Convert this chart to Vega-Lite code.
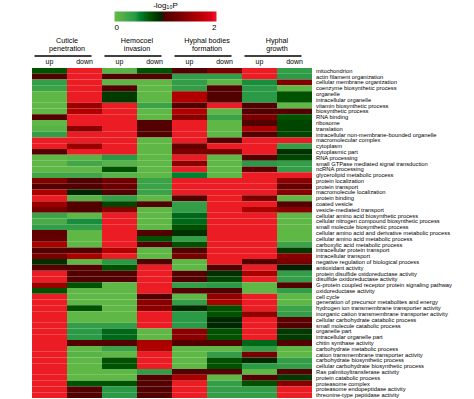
{
"$schema": "https://vega.github.io/schema/vega-lite/v6.json",
"padding": {"left": 32, "top": 1, "right": 0, "bottom": 2},
"config": {"font": "Liberation Sans", "view": {"stroke": null}, "scale": {"bandPaddingInner": 0, "bandPaddingOuter": 0}},
"datasets": {"cells": [
{"term":"mitochondrion","group":"Cuticle penetration","dir":"up","value":0.7},{"term":"mitochondrion","group":"Cuticle penetration","dir":"down","value":2},{"term":"mitochondrion","group":"Hemocoel invasion","dir":"up","value":0.1},{"term":"mitochondrion","group":"Hemocoel invasion","dir":"down","value":0.7},{"term":"mitochondrion","group":"Hyphal bodies formation","dir":"up","value":1.0},{"term":"mitochondrion","group":"Hyphal bodies formation","dir":"down","value":1.3},{"term":"mitochondrion","group":"Hyphal growth","dir":"up","value":2},{"term":"mitochondrion","group":"Hyphal growth","dir":"down","value":0.35},
{"term":"actin filament organization","group":"Cuticle penetration","dir":"up","value":1.0},{"term":"actin filament organization","group":"Cuticle penetration","dir":"down","value":2},{"term":"actin filament organization","group":"Hemocoel invasion","dir":"up","value":1.0},{"term":"actin filament organization","group":"Hemocoel invasion","dir":"down","value":1.0},{"term":"actin filament organization","group":"Hyphal bodies formation","dir":"up","value":0.35},{"term":"actin filament organization","group":"Hyphal bodies formation","dir":"down","value":0.35},{"term":"actin filament organization","group":"Hyphal growth","dir":"up","value":2},{"term":"actin filament organization","group":"Hyphal growth","dir":"down","value":0.4},
{"term":"cellular membrane organization","group":"Cuticle penetration","dir":"up","value":0.35},{"term":"cellular membrane organization","group":"Cuticle penetration","dir":"down","value":2},{"term":"cellular membrane organization","group":"Hemocoel invasion","dir":"up","value":0.05},{"term":"cellular membrane organization","group":"Hemocoel invasion","dir":"down","value":0.05},{"term":"cellular membrane organization","group":"Hyphal bodies formation","dir":"up","value":0.35},{"term":"cellular membrane organization","group":"Hyphal bodies formation","dir":"down","value":0.05},{"term":"cellular membrane organization","group":"Hyphal growth","dir":"up","value":0.45},{"term":"cellular membrane organization","group":"Hyphal growth","dir":"down","value":1.35},
{"term":"coenzyme biosynthetic process","group":"Cuticle penetration","dir":"up","value":0.3},{"term":"coenzyme biosynthetic process","group":"Cuticle penetration","dir":"down","value":2},{"term":"coenzyme biosynthetic process","group":"Hemocoel invasion","dir":"up","value":1.0},{"term":"coenzyme biosynthetic process","group":"Hemocoel invasion","dir":"down","value":0.05},{"term":"coenzyme biosynthetic process","group":"Hyphal bodies formation","dir":"up","value":0.35},{"term":"coenzyme biosynthetic process","group":"Hyphal bodies formation","dir":"down","value":1.0},{"term":"coenzyme biosynthetic process","group":"Hyphal growth","dir":"up","value":0.4},{"term":"coenzyme biosynthetic process","group":"Hyphal growth","dir":"down","value":0.05},
{"term":"organelle","group":"Cuticle penetration","dir":"up","value":0.05},{"term":"organelle","group":"Cuticle penetration","dir":"down","value":2},{"term":"organelle","group":"Hemocoel invasion","dir":"up","value":0.8},{"term":"organelle","group":"Hemocoel invasion","dir":"down","value":0.05},{"term":"organelle","group":"Hyphal bodies formation","dir":"up","value":1.65},{"term":"organelle","group":"Hyphal bodies formation","dir":"down","value":1.0},{"term":"organelle","group":"Hyphal growth","dir":"up","value":0.4},{"term":"organelle","group":"Hyphal growth","dir":"down","value":0.7},
{"term":"intracellular organelle","group":"Cuticle penetration","dir":"up","value":0.05},{"term":"intracellular organelle","group":"Cuticle penetration","dir":"down","value":2},{"term":"intracellular organelle","group":"Hemocoel invasion","dir":"up","value":0.8},{"term":"intracellular organelle","group":"Hemocoel invasion","dir":"down","value":0.05},{"term":"intracellular organelle","group":"Hyphal bodies formation","dir":"up","value":1.65},{"term":"intracellular organelle","group":"Hyphal bodies formation","dir":"down","value":1.0},{"term":"intracellular organelle","group":"Hyphal growth","dir":"up","value":0.4},{"term":"intracellular organelle","group":"Hyphal growth","dir":"down","value":0.7},
{"term":"vitamin biosynthetic process","group":"Cuticle penetration","dir":"up","value":0.05},{"term":"vitamin biosynthetic process","group":"Cuticle penetration","dir":"down","value":1.5},{"term":"vitamin biosynthetic process","group":"Hemocoel invasion","dir":"up","value":2},{"term":"vitamin biosynthetic process","group":"Hemocoel invasion","dir":"down","value":0.3},{"term":"vitamin biosynthetic process","group":"Hyphal bodies formation","dir":"up","value":1.0},{"term":"vitamin biosynthetic process","group":"Hyphal bodies formation","dir":"down","value":2},{"term":"vitamin biosynthetic process","group":"Hyphal growth","dir":"up","value":1.0},{"term":"vitamin biosynthetic process","group":"Hyphal growth","dir":"down","value":0.05},
{"term":"biosynthetic process","group":"Cuticle penetration","dir":"up","value":0.05},{"term":"biosynthetic process","group":"Cuticle penetration","dir":"down","value":1.65},{"term":"biosynthetic process","group":"Hemocoel invasion","dir":"up","value":2},{"term":"biosynthetic process","group":"Hemocoel invasion","dir":"down","value":0.05},{"term":"biosynthetic process","group":"Hyphal bodies formation","dir":"up","value":1.65},{"term":"biosynthetic process","group":"Hyphal bodies formation","dir":"down","value":0.05},{"term":"biosynthetic process","group":"Hyphal growth","dir":"up","value":1.0},{"term":"biosynthetic process","group":"Hyphal growth","dir":"down","value":1.0},
{"term":"RNA binding","group":"Cuticle penetration","dir":"up","value":1.0},{"term":"RNA binding","group":"Cuticle penetration","dir":"down","value":2},{"term":"RNA binding","group":"Hemocoel invasion","dir":"up","value":2},{"term":"RNA binding","group":"Hemocoel invasion","dir":"down","value":0.05},{"term":"RNA binding","group":"Hyphal bodies formation","dir":"up","value":1.4},{"term":"RNA binding","group":"Hyphal bodies formation","dir":"down","value":0.3},{"term":"RNA binding","group":"Hyphal growth","dir":"up","value":1.3},{"term":"RNA binding","group":"Hyphal growth","dir":"down","value":0.7},
{"term":"ribosome","group":"Cuticle penetration","dir":"up","value":0.05},{"term":"ribosome","group":"Cuticle penetration","dir":"down","value":2},{"term":"ribosome","group":"Hemocoel invasion","dir":"up","value":2},{"term":"ribosome","group":"Hemocoel invasion","dir":"down","value":1.0},{"term":"ribosome","group":"Hyphal bodies formation","dir":"up","value":2},{"term":"ribosome","group":"Hyphal bodies formation","dir":"down","value":0.05},{"term":"ribosome","group":"Hyphal growth","dir":"up","value":1.0},{"term":"ribosome","group":"Hyphal growth","dir":"down","value":0.75},
{"term":"translation","group":"Cuticle penetration","dir":"up","value":0.1},{"term":"translation","group":"Cuticle penetration","dir":"down","value":1.4},{"term":"translation","group":"Hemocoel invasion","dir":"up","value":2},{"term":"translation","group":"Hemocoel invasion","dir":"down","value":1.0},{"term":"translation","group":"Hyphal bodies formation","dir":"up","value":2},{"term":"translation","group":"Hyphal bodies formation","dir":"down","value":0.05},{"term":"translation","group":"Hyphal growth","dir":"up","value":1.6},{"term":"translation","group":"Hyphal growth","dir":"down","value":0.75},
{"term":"intracellular non-membrane-bounded organelle","group":"Cuticle penetration","dir":"up","value":0.35},{"term":"intracellular non-membrane-bounded organelle","group":"Cuticle penetration","dir":"down","value":2},{"term":"intracellular non-membrane-bounded organelle","group":"Hemocoel invasion","dir":"up","value":2},{"term":"intracellular non-membrane-bounded organelle","group":"Hemocoel invasion","dir":"down","value":1.0},{"term":"intracellular non-membrane-bounded organelle","group":"Hyphal bodies formation","dir":"up","value":2},{"term":"intracellular non-membrane-bounded organelle","group":"Hyphal bodies formation","dir":"down","value":0.05},{"term":"intracellular non-membrane-bounded organelle","group":"Hyphal growth","dir":"up","value":1.0},{"term":"intracellular non-membrane-bounded organelle","group":"Hyphal growth","dir":"down","value":0.75},
{"term":"macromolecular complex","group":"Cuticle penetration","dir":"up","value":2},{"term":"macromolecular complex","group":"Cuticle penetration","dir":"down","value":2},{"term":"macromolecular complex","group":"Hemocoel invasion","dir":"up","value":2},{"term":"macromolecular complex","group":"Hemocoel invasion","dir":"down","value":0.05},{"term":"macromolecular complex","group":"Hyphal bodies formation","dir":"up","value":2},{"term":"macromolecular complex","group":"Hyphal bodies formation","dir":"down","value":1.0},{"term":"macromolecular complex","group":"Hyphal growth","dir":"up","value":2},{"term":"macromolecular complex","group":"Hyphal growth","dir":"down","value":2},
{"term":"cytoplasm","group":"Cuticle penetration","dir":"up","value":2},{"term":"cytoplasm","group":"Cuticle penetration","dir":"down","value":1.5},{"term":"cytoplasm","group":"Hemocoel invasion","dir":"up","value":2},{"term":"cytoplasm","group":"Hemocoel invasion","dir":"down","value":0.05},{"term":"cytoplasm","group":"Hyphal bodies formation","dir":"up","value":1.15},{"term":"cytoplasm","group":"Hyphal bodies formation","dir":"down","value":2},{"term":"cytoplasm","group":"Hyphal growth","dir":"up","value":2},{"term":"cytoplasm","group":"Hyphal growth","dir":"down","value":0.35},
{"term":"cytoplasmic part","group":"Cuticle penetration","dir":"up","value":1.0},{"term":"cytoplasmic part","group":"Cuticle penetration","dir":"down","value":2},{"term":"cytoplasmic part","group":"Hemocoel invasion","dir":"up","value":2},{"term":"cytoplasmic part","group":"Hemocoel invasion","dir":"down","value":0.05},{"term":"cytoplasmic part","group":"Hyphal bodies formation","dir":"up","value":1.3},{"term":"cytoplasmic part","group":"Hyphal bodies formation","dir":"down","value":1.3},{"term":"cytoplasmic part","group":"Hyphal growth","dir":"up","value":2},{"term":"cytoplasmic part","group":"Hyphal growth","dir":"down","value":0.85},
{"term":"RNA processing","group":"Cuticle penetration","dir":"up","value":0.05},{"term":"RNA processing","group":"Cuticle penetration","dir":"down","value":0.1},{"term":"RNA processing","group":"Hemocoel invasion","dir":"up","value":0.4},{"term":"RNA processing","group":"Hemocoel invasion","dir":"down","value":0.05},{"term":"RNA processing","group":"Hyphal bodies formation","dir":"up","value":2},{"term":"RNA processing","group":"Hyphal bodies formation","dir":"down","value":0.05},{"term":"RNA processing","group":"Hyphal growth","dir":"up","value":1.0},{"term":"RNA processing","group":"Hyphal growth","dir":"down","value":0.75},
{"term":"small GTPase mediated signal transduction","group":"Cuticle penetration","dir":"up","value":0.05},{"term":"small GTPase mediated signal transduction","group":"Cuticle penetration","dir":"down","value":0.25},{"term":"small GTPase mediated signal transduction","group":"Hemocoel invasion","dir":"up","value":0.1},{"term":"small GTPase mediated signal transduction","group":"Hemocoel invasion","dir":"down","value":0.05},{"term":"small GTPase mediated signal transduction","group":"Hyphal bodies formation","dir":"up","value":1.4},{"term":"small GTPase mediated signal transduction","group":"Hyphal bodies formation","dir":"down","value":0.05},{"term":"small GTPase mediated signal transduction","group":"Hyphal growth","dir":"up","value":0.4},{"term":"small GTPase mediated signal transduction","group":"Hyphal growth","dir":"down","value":0.35},
{"term":"ncRNA processing","group":"Cuticle penetration","dir":"up","value":0.05},{"term":"ncRNA processing","group":"Cuticle penetration","dir":"down","value":0.05},{"term":"ncRNA processing","group":"Hemocoel invasion","dir":"up","value":0.7},{"term":"ncRNA processing","group":"Hemocoel invasion","dir":"down","value":0.05},{"term":"ncRNA processing","group":"Hyphal bodies formation","dir":"up","value":2},{"term":"ncRNA processing","group":"Hyphal bodies formation","dir":"down","value":0.05},{"term":"ncRNA processing","group":"Hyphal growth","dir":"up","value":1.1},{"term":"ncRNA processing","group":"Hyphal growth","dir":"down","value":0.35},
{"term":"glycerolipid metabolic process","group":"Cuticle penetration","dir":"up","value":0.25},{"term":"glycerolipid metabolic process","group":"Cuticle penetration","dir":"down","value":0.25},{"term":"glycerolipid metabolic process","group":"Hemocoel invasion","dir":"up","value":0.1},{"term":"glycerolipid metabolic process","group":"Hemocoel invasion","dir":"down","value":0.05},{"term":"glycerolipid metabolic process","group":"Hyphal bodies formation","dir":"up","value":0.5},{"term":"glycerolipid metabolic process","group":"Hyphal bodies formation","dir":"down","value":0.05},{"term":"glycerolipid metabolic process","group":"Hyphal growth","dir":"up","value":2},{"term":"glycerolipid metabolic process","group":"Hyphal growth","dir":"down","value":2},
{"term":"protein localization","group":"Cuticle penetration","dir":"up","value":1.35},{"term":"protein localization","group":"Cuticle penetration","dir":"down","value":1.0},{"term":"protein localization","group":"Hemocoel invasion","dir":"up","value":1.25},{"term":"protein localization","group":"Hemocoel invasion","dir":"down","value":0.3},{"term":"protein localization","group":"Hyphal bodies formation","dir":"up","value":2},{"term":"protein localization","group":"Hyphal bodies formation","dir":"down","value":2},{"term":"protein localization","group":"Hyphal growth","dir":"up","value":2},{"term":"protein localization","group":"Hyphal growth","dir":"down","value":1.4},
{"term":"protein transport","group":"Cuticle penetration","dir":"up","value":1.0},{"term":"protein transport","group":"Cuticle penetration","dir":"down","value":1.0},{"term":"protein transport","group":"Hemocoel invasion","dir":"up","value":1.2},{"term":"protein transport","group":"Hemocoel invasion","dir":"down","value":0.3},{"term":"protein transport","group":"Hyphal bodies formation","dir":"up","value":2},{"term":"protein transport","group":"Hyphal bodies formation","dir":"down","value":2},{"term":"protein transport","group":"Hyphal growth","dir":"up","value":2},{"term":"protein transport","group":"Hyphal growth","dir":"down","value":1.15},
{"term":"macromolecule localization","group":"Cuticle penetration","dir":"up","value":1.6},{"term":"macromolecule localization","group":"Cuticle penetration","dir":"down","value":0.9},{"term":"macromolecule localization","group":"Hemocoel invasion","dir":"up","value":1.0},{"term":"macromolecule localization","group":"Hemocoel invasion","dir":"down","value":0.3},{"term":"macromolecule localization","group":"Hyphal bodies formation","dir":"up","value":2},{"term":"macromolecule localization","group":"Hyphal bodies formation","dir":"down","value":2},{"term":"macromolecule localization","group":"Hyphal growth","dir":"up","value":2},{"term":"macromolecule localization","group":"Hyphal growth","dir":"down","value":1.4},
{"term":"protein binding","group":"Cuticle penetration","dir":"up","value":2},{"term":"protein binding","group":"Cuticle penetration","dir":"down","value":0.1},{"term":"protein binding","group":"Hemocoel invasion","dir":"up","value":0.35},{"term":"protein binding","group":"Hemocoel invasion","dir":"down","value":0.05},{"term":"protein binding","group":"Hyphal bodies formation","dir":"up","value":1.0},{"term":"protein binding","group":"Hyphal bodies formation","dir":"down","value":2},{"term":"protein binding","group":"Hyphal growth","dir":"up","value":1.3},{"term":"protein binding","group":"Hyphal growth","dir":"down","value":0.05},
{"term":"coated vesicle","group":"Cuticle penetration","dir":"up","value":1.5},{"term":"coated vesicle","group":"Cuticle penetration","dir":"down","value":1.0},{"term":"coated vesicle","group":"Hemocoel invasion","dir":"up","value":0.75},{"term":"coated vesicle","group":"Hemocoel invasion","dir":"down","value":1.0},{"term":"coated vesicle","group":"Hyphal bodies formation","dir":"up","value":0.35},{"term":"coated vesicle","group":"Hyphal bodies formation","dir":"down","value":2},{"term":"coated vesicle","group":"Hyphal growth","dir":"up","value":2},{"term":"coated vesicle","group":"Hyphal growth","dir":"down","value":1.0},
{"term":"vesicle-mediated transport","group":"Cuticle penetration","dir":"up","value":1.25},{"term":"vesicle-mediated transport","group":"Cuticle penetration","dir":"down","value":1.0},{"term":"vesicle-mediated transport","group":"Hemocoel invasion","dir":"up","value":1.4},{"term":"vesicle-mediated transport","group":"Hemocoel invasion","dir":"down","value":0.05},{"term":"vesicle-mediated transport","group":"Hyphal bodies formation","dir":"up","value":0.35},{"term":"vesicle-mediated transport","group":"Hyphal bodies formation","dir":"down","value":2},{"term":"vesicle-mediated transport","group":"Hyphal growth","dir":"up","value":1.6},{"term":"vesicle-mediated transport","group":"Hyphal growth","dir":"down","value":1.4},
{"term":"cellular amino acid biosynthetic process","group":"Cuticle penetration","dir":"up","value":0.3},{"term":"cellular amino acid biosynthetic process","group":"Cuticle penetration","dir":"down","value":0.05},{"term":"cellular amino acid biosynthetic process","group":"Hemocoel invasion","dir":"up","value":2},{"term":"cellular amino acid biosynthetic process","group":"Hemocoel invasion","dir":"down","value":0.05},{"term":"cellular amino acid biosynthetic process","group":"Hyphal bodies formation","dir":"up","value":0.6},{"term":"cellular amino acid biosynthetic process","group":"Hyphal bodies formation","dir":"down","value":2},{"term":"cellular amino acid biosynthetic process","group":"Hyphal growth","dir":"up","value":2},{"term":"cellular amino acid biosynthetic process","group":"Hyphal growth","dir":"down","value":0.05},
{"term":"cellular nitrogen compound biosynthetic process","group":"Cuticle penetration","dir":"up","value":0.2},{"term":"cellular nitrogen compound biosynthetic process","group":"Cuticle penetration","dir":"down","value":0.45},{"term":"cellular nitrogen compound biosynthetic process","group":"Hemocoel invasion","dir":"up","value":2},{"term":"cellular nitrogen compound biosynthetic process","group":"Hemocoel invasion","dir":"down","value":0.05},{"term":"cellular nitrogen compound biosynthetic process","group":"Hyphal bodies formation","dir":"up","value":0.6},{"term":"cellular nitrogen compound biosynthetic process","group":"Hyphal bodies formation","dir":"down","value":2},{"term":"cellular nitrogen compound biosynthetic process","group":"Hyphal growth","dir":"up","value":2},{"term":"cellular nitrogen compound biosynthetic process","group":"Hyphal growth","dir":"down","value":0.05},
{"term":"small molecule biosynthetic process","group":"Cuticle penetration","dir":"up","value":0.35},{"term":"small molecule biosynthetic process","group":"Cuticle penetration","dir":"down","value":0.35},{"term":"small molecule biosynthetic process","group":"Hemocoel invasion","dir":"up","value":2},{"term":"small molecule biosynthetic process","group":"Hemocoel invasion","dir":"down","value":0.05},{"term":"small molecule biosynthetic process","group":"Hyphal bodies formation","dir":"up","value":0.7},{"term":"small molecule biosynthetic process","group":"Hyphal bodies formation","dir":"down","value":2},{"term":"small molecule biosynthetic process","group":"Hyphal growth","dir":"up","value":2},{"term":"small molecule biosynthetic process","group":"Hyphal growth","dir":"down","value":0.05},
{"term":"cellular amino acid and derivative metabolic process","group":"Cuticle penetration","dir":"up","value":1.1},{"term":"cellular amino acid and derivative metabolic process","group":"Cuticle penetration","dir":"down","value":0.05},{"term":"cellular amino acid and derivative metabolic process","group":"Hemocoel invasion","dir":"up","value":2},{"term":"cellular amino acid and derivative metabolic process","group":"Hemocoel invasion","dir":"down","value":1.0},{"term":"cellular amino acid and derivative metabolic process","group":"Hyphal bodies formation","dir":"up","value":0.85},{"term":"cellular amino acid and derivative metabolic process","group":"Hyphal bodies formation","dir":"down","value":2},{"term":"cellular amino acid and derivative metabolic process","group":"Hyphal growth","dir":"up","value":2},{"term":"cellular amino acid and derivative metabolic process","group":"Hyphal growth","dir":"down","value":0.05},
{"term":"cellular amino acid metabolic process","group":"Cuticle penetration","dir":"up","value":1.15},{"term":"cellular amino acid metabolic process","group":"Cuticle penetration","dir":"down","value":0.05},{"term":"cellular amino acid metabolic process","group":"Hemocoel invasion","dir":"up","value":2},{"term":"cellular amino acid metabolic process","group":"Hemocoel invasion","dir":"down","value":0.7},{"term":"cellular amino acid metabolic process","group":"Hyphal bodies formation","dir":"up","value":0.35},{"term":"cellular amino acid metabolic process","group":"Hyphal bodies formation","dir":"down","value":2},{"term":"cellular amino acid metabolic process","group":"Hyphal growth","dir":"up","value":2},{"term":"cellular amino acid metabolic process","group":"Hyphal growth","dir":"down","value":0.05},
{"term":"carboxylic acid metabolic process","group":"Cuticle penetration","dir":"up","value":1.6},{"term":"carboxylic acid metabolic process","group":"Cuticle penetration","dir":"down","value":0.05},{"term":"carboxylic acid metabolic process","group":"Hemocoel invasion","dir":"up","value":2},{"term":"carboxylic acid metabolic process","group":"Hemocoel invasion","dir":"down","value":1.0},{"term":"carboxylic acid metabolic process","group":"Hyphal bodies formation","dir":"up","value":0.7},{"term":"carboxylic acid metabolic process","group":"Hyphal bodies formation","dir":"down","value":2},{"term":"carboxylic acid metabolic process","group":"Hyphal growth","dir":"up","value":2},{"term":"carboxylic acid metabolic process","group":"Hyphal growth","dir":"down","value":0.3},
{"term":"intracellular protein transport","group":"Cuticle penetration","dir":"up","value":1.0},{"term":"intracellular protein transport","group":"Cuticle penetration","dir":"down","value":1.0},{"term":"intracellular protein transport","group":"Hemocoel invasion","dir":"up","value":1.65},{"term":"intracellular protein transport","group":"Hemocoel invasion","dir":"down","value":0.05},{"term":"intracellular protein transport","group":"Hyphal bodies formation","dir":"up","value":1.0},{"term":"intracellular protein transport","group":"Hyphal bodies formation","dir":"down","value":2},{"term":"intracellular protein transport","group":"Hyphal growth","dir":"up","value":2},{"term":"intracellular protein transport","group":"Hyphal growth","dir":"down","value":0.8},
{"term":"intracellular transport","group":"Cuticle penetration","dir":"up","value":1.3},{"term":"intracellular transport","group":"Cuticle penetration","dir":"down","value":1.6},{"term":"intracellular transport","group":"Hemocoel invasion","dir":"up","value":2},{"term":"intracellular transport","group":"Hemocoel invasion","dir":"down","value":0.05},{"term":"intracellular transport","group":"Hyphal bodies formation","dir":"up","value":1.3},{"term":"intracellular transport","group":"Hyphal bodies formation","dir":"down","value":2},{"term":"intracellular transport","group":"Hyphal growth","dir":"up","value":2},{"term":"intracellular transport","group":"Hyphal growth","dir":"down","value":1.4},
{"term":"negative regulation of biological process","group":"Cuticle penetration","dir":"up","value":0.85},{"term":"negative regulation of biological process","group":"Cuticle penetration","dir":"down","value":0.05},{"term":"negative regulation of biological process","group":"Hemocoel invasion","dir":"up","value":0.4},{"term":"negative regulation of biological process","group":"Hemocoel invasion","dir":"down","value":1.0},{"term":"negative regulation of biological process","group":"Hyphal bodies formation","dir":"up","value":0.05},{"term":"negative regulation of biological process","group":"Hyphal bodies formation","dir":"down","value":2},{"term":"negative regulation of biological process","group":"Hyphal growth","dir":"up","value":1.0},{"term":"negative regulation of biological process","group":"Hyphal growth","dir":"down","value":1.3},
{"term":"antioxidant activity","group":"Cuticle penetration","dir":"up","value":1.0},{"term":"antioxidant activity","group":"Cuticle penetration","dir":"down","value":1.0},{"term":"antioxidant activity","group":"Hemocoel invasion","dir":"up","value":0.7},{"term":"antioxidant activity","group":"Hemocoel invasion","dir":"down","value":2},{"term":"antioxidant activity","group":"Hyphal bodies formation","dir":"up","value":0.05},{"term":"antioxidant activity","group":"Hyphal bodies formation","dir":"down","value":1.0},{"term":"antioxidant activity","group":"Hyphal growth","dir":"up","value":2},{"term":"antioxidant activity","group":"Hyphal growth","dir":"down","value":0.95},
{"term":"protein disulfide oxidoreductase activity","group":"Cuticle penetration","dir":"up","value":2},{"term":"protein disulfide oxidoreductase activity","group":"Cuticle penetration","dir":"down","value":1.0},{"term":"protein disulfide oxidoreductase activity","group":"Hemocoel invasion","dir":"up","value":1.0},{"term":"protein disulfide oxidoreductase activity","group":"Hemocoel invasion","dir":"down","value":2},{"term":"protein disulfide oxidoreductase activity","group":"Hyphal bodies formation","dir":"up","value":1.0},{"term":"protein disulfide oxidoreductase activity","group":"Hyphal bodies formation","dir":"down","value":0.85},{"term":"protein disulfide oxidoreductase activity","group":"Hyphal growth","dir":"up","value":1.6},{"term":"protein disulfide oxidoreductase activity","group":"Hyphal growth","dir":"down","value":0.35},
{"term":"disulfide oxidoreductase activity","group":"Cuticle penetration","dir":"up","value":2},{"term":"disulfide oxidoreductase activity","group":"Cuticle penetration","dir":"down","value":1.0},{"term":"disulfide oxidoreductase activity","group":"Hemocoel invasion","dir":"up","value":1.0},{"term":"disulfide oxidoreductase activity","group":"Hemocoel invasion","dir":"down","value":2},{"term":"disulfide oxidoreductase activity","group":"Hyphal bodies formation","dir":"up","value":1.0},{"term":"disulfide oxidoreductase activity","group":"Hyphal bodies formation","dir":"down","value":0.75},{"term":"disulfide oxidoreductase activity","group":"Hyphal growth","dir":"up","value":2},{"term":"disulfide oxidoreductase activity","group":"Hyphal growth","dir":"down","value":0.35},
{"term":"G-protein coupled receptor protein signaling pathway","group":"Cuticle penetration","dir":"up","value":1.5},{"term":"G-protein coupled receptor protein signaling pathway","group":"Cuticle penetration","dir":"down","value":0.7},{"term":"G-protein coupled receptor protein signaling pathway","group":"Hemocoel invasion","dir":"up","value":0.05},{"term":"G-protein coupled receptor protein signaling pathway","group":"Hemocoel invasion","dir":"down","value":2},{"term":"G-protein coupled receptor protein signaling pathway","group":"Hyphal bodies formation","dir":"up","value":0.35},{"term":"G-protein coupled receptor protein signaling pathway","group":"Hyphal bodies formation","dir":"down","value":0.4},{"term":"G-protein coupled receptor protein signaling pathway","group":"Hyphal growth","dir":"up","value":0.05},{"term":"G-protein coupled receptor protein signaling pathway","group":"Hyphal growth","dir":"down","value":1.0},
{"term":"oxidoreductase activity","group":"Cuticle penetration","dir":"up","value":0.7},{"term":"oxidoreductase activity","group":"Cuticle penetration","dir":"down","value":0.05},{"term":"oxidoreductase activity","group":"Hemocoel invasion","dir":"up","value":0.05},{"term":"oxidoreductase activity","group":"Hemocoel invasion","dir":"down","value":2},{"term":"oxidoreductase activity","group":"Hyphal bodies formation","dir":"up","value":1.0},{"term":"oxidoreductase activity","group":"Hyphal bodies formation","dir":"down","value":1.0},{"term":"oxidoreductase activity","group":"Hyphal growth","dir":"up","value":0.05},{"term":"oxidoreductase activity","group":"Hyphal growth","dir":"down","value":0.35},
{"term":"cell cycle","group":"Cuticle penetration","dir":"up","value":2},{"term":"cell cycle","group":"Cuticle penetration","dir":"down","value":0.05},{"term":"cell cycle","group":"Hemocoel invasion","dir":"up","value":0.05},{"term":"cell cycle","group":"Hemocoel invasion","dir":"down","value":1.0},{"term":"cell cycle","group":"Hyphal bodies formation","dir":"up","value":0.05},{"term":"cell cycle","group":"Hyphal bodies formation","dir":"down","value":1.45},{"term":"cell cycle","group":"Hyphal growth","dir":"up","value":2},{"term":"cell cycle","group":"Hyphal growth","dir":"down","value":0.05},
{"term":"generation of precursor metabolites and energy","group":"Cuticle penetration","dir":"up","value":2},{"term":"generation of precursor metabolites and energy","group":"Cuticle penetration","dir":"down","value":0.05},{"term":"generation of precursor metabolites and energy","group":"Hemocoel invasion","dir":"up","value":0.05},{"term":"generation of precursor metabolites and energy","group":"Hemocoel invasion","dir":"down","value":1.4},{"term":"generation of precursor metabolites and energy","group":"Hyphal bodies formation","dir":"up","value":0.35},{"term":"generation of precursor metabolites and energy","group":"Hyphal bodies formation","dir":"down","value":1.6},{"term":"generation of precursor metabolites and energy","group":"Hyphal growth","dir":"up","value":2},{"term":"generation of precursor metabolites and energy","group":"Hyphal growth","dir":"down","value":0.05},
{"term":"hydrogen ion transmembrane transporter activity","group":"Cuticle penetration","dir":"up","value":2},{"term":"hydrogen ion transmembrane transporter activity","group":"Cuticle penetration","dir":"down","value":0.7},{"term":"hydrogen ion transmembrane transporter activity","group":"Hemocoel invasion","dir":"up","value":0.05},{"term":"hydrogen ion transmembrane transporter activity","group":"Hemocoel invasion","dir":"down","value":1.4},{"term":"hydrogen ion transmembrane transporter activity","group":"Hyphal bodies formation","dir":"up","value":0.9},{"term":"hydrogen ion transmembrane transporter activity","group":"Hyphal bodies formation","dir":"down","value":0.7},{"term":"hydrogen ion transmembrane transporter activity","group":"Hyphal growth","dir":"up","value":2},{"term":"hydrogen ion transmembrane transporter activity","group":"Hyphal growth","dir":"down","value":0.3},
{"term":"inorganic cation transmembrane transporter activity","group":"Cuticle penetration","dir":"up","value":2},{"term":"inorganic cation transmembrane transporter activity","group":"Cuticle penetration","dir":"down","value":0.05},{"term":"inorganic cation transmembrane transporter activity","group":"Hemocoel invasion","dir":"up","value":0.05},{"term":"inorganic cation transmembrane transporter activity","group":"Hemocoel invasion","dir":"down","value":2},{"term":"inorganic cation transmembrane transporter activity","group":"Hyphal bodies formation","dir":"up","value":0.4},{"term":"inorganic cation transmembrane transporter activity","group":"Hyphal bodies formation","dir":"down","value":0.7},{"term":"inorganic cation transmembrane transporter activity","group":"Hyphal growth","dir":"up","value":1.45},{"term":"inorganic cation transmembrane transporter activity","group":"Hyphal growth","dir":"down","value":0.35},
{"term":"cellular carbohydrate catabolic process","group":"Cuticle penetration","dir":"up","value":2},{"term":"cellular carbohydrate catabolic process","group":"Cuticle penetration","dir":"down","value":0.05},{"term":"cellular carbohydrate catabolic process","group":"Hemocoel invasion","dir":"up","value":0.05},{"term":"cellular carbohydrate catabolic process","group":"Hemocoel invasion","dir":"down","value":2},{"term":"cellular carbohydrate catabolic process","group":"Hyphal bodies formation","dir":"up","value":0.4},{"term":"cellular carbohydrate catabolic process","group":"Hyphal bodies formation","dir":"down","value":0.9},{"term":"cellular carbohydrate catabolic process","group":"Hyphal growth","dir":"up","value":2},{"term":"cellular carbohydrate catabolic process","group":"Hyphal growth","dir":"down","value":1.1},
{"term":"small molecule catabolic process","group":"Cuticle penetration","dir":"up","value":2},{"term":"small molecule catabolic process","group":"Cuticle penetration","dir":"down","value":0.35},{"term":"small molecule catabolic process","group":"Hemocoel invasion","dir":"up","value":0.35},{"term":"small molecule catabolic process","group":"Hemocoel invasion","dir":"down","value":2},{"term":"small molecule catabolic process","group":"Hyphal bodies formation","dir":"up","value":0.4},{"term":"small molecule catabolic process","group":"Hyphal bodies formation","dir":"down","value":0.9},{"term":"small molecule catabolic process","group":"Hyphal growth","dir":"up","value":2},{"term":"small molecule catabolic process","group":"Hyphal growth","dir":"down","value":1.0},
{"term":"organelle part","group":"Cuticle penetration","dir":"up","value":2},{"term":"organelle part","group":"Cuticle penetration","dir":"down","value":0.4},{"term":"organelle part","group":"Hemocoel invasion","dir":"up","value":0.6},{"term":"organelle part","group":"Hemocoel invasion","dir":"down","value":0.05},{"term":"organelle part","group":"Hyphal bodies formation","dir":"up","value":1.4},{"term":"organelle part","group":"Hyphal bodies formation","dir":"down","value":0.7},{"term":"organelle part","group":"Hyphal growth","dir":"up","value":2},{"term":"organelle part","group":"Hyphal growth","dir":"down","value":0.8},
{"term":"intracellular organelle part","group":"Cuticle penetration","dir":"up","value":2},{"term":"intracellular organelle part","group":"Cuticle penetration","dir":"down","value":0.4},{"term":"intracellular organelle part","group":"Hemocoel invasion","dir":"up","value":0.6},{"term":"intracellular organelle part","group":"Hemocoel invasion","dir":"down","value":0.05},{"term":"intracellular organelle part","group":"Hyphal bodies formation","dir":"up","value":1.4},{"term":"intracellular organelle part","group":"Hyphal bodies formation","dir":"down","value":0.7},{"term":"intracellular organelle part","group":"Hyphal growth","dir":"up","value":2},{"term":"intracellular organelle part","group":"Hyphal growth","dir":"down","value":0.8},
{"term":"chitin synthase activity","group":"Cuticle penetration","dir":"up","value":2},{"term":"chitin synthase activity","group":"Cuticle penetration","dir":"down","value":1.0},{"term":"chitin synthase activity","group":"Hemocoel invasion","dir":"up","value":1.0},{"term":"chitin synthase activity","group":"Hemocoel invasion","dir":"down","value":1.6},{"term":"chitin synthase activity","group":"Hyphal bodies formation","dir":"up","value":1.0},{"term":"chitin synthase activity","group":"Hyphal bodies formation","dir":"down","value":1.0},{"term":"chitin synthase activity","group":"Hyphal growth","dir":"up","value":0.6},{"term":"chitin synthase activity","group":"Hyphal growth","dir":"down","value":1.0},
{"term":"carbohydrate metabolic process","group":"Cuticle penetration","dir":"up","value":2},{"term":"carbohydrate metabolic process","group":"Cuticle penetration","dir":"down","value":0.05},{"term":"carbohydrate metabolic process","group":"Hemocoel invasion","dir":"up","value":0.3},{"term":"carbohydrate metabolic process","group":"Hemocoel invasion","dir":"down","value":1.65},{"term":"carbohydrate metabolic process","group":"Hyphal bodies formation","dir":"up","value":0.05},{"term":"carbohydrate metabolic process","group":"Hyphal bodies formation","dir":"down","value":0.05},{"term":"carbohydrate metabolic process","group":"Hyphal growth","dir":"up","value":0.35},{"term":"carbohydrate metabolic process","group":"Hyphal growth","dir":"down","value":0.05},
{"term":"cation transmembrane transporter activity","group":"Cuticle penetration","dir":"up","value":2},{"term":"cation transmembrane transporter activity","group":"Cuticle penetration","dir":"down","value":0.1},{"term":"cation transmembrane transporter activity","group":"Hemocoel invasion","dir":"up","value":0.05},{"term":"cation transmembrane transporter activity","group":"Hemocoel invasion","dir":"down","value":2},{"term":"cation transmembrane transporter activity","group":"Hyphal bodies formation","dir":"up","value":0.05},{"term":"cation transmembrane transporter activity","group":"Hyphal bodies formation","dir":"down","value":0.35},{"term":"cation transmembrane transporter activity","group":"Hyphal growth","dir":"up","value":1.3},{"term":"cation transmembrane transporter activity","group":"Hyphal growth","dir":"down","value":0.05},
{"term":"carbohydrate biosynthetic process","group":"Cuticle penetration","dir":"up","value":2},{"term":"carbohydrate biosynthetic process","group":"Cuticle penetration","dir":"down","value":0.05},{"term":"carbohydrate biosynthetic process","group":"Hemocoel invasion","dir":"up","value":0.7},{"term":"carbohydrate biosynthetic process","group":"Hemocoel invasion","dir":"down","value":2},{"term":"carbohydrate biosynthetic process","group":"Hyphal bodies formation","dir":"up","value":0.05},{"term":"carbohydrate biosynthetic process","group":"Hyphal bodies formation","dir":"down","value":0.7},{"term":"carbohydrate biosynthetic process","group":"Hyphal growth","dir":"up","value":0.9},{"term":"carbohydrate biosynthetic process","group":"Hyphal growth","dir":"down","value":0.35},
{"term":"cellular carbohydrate biosynthetic process","group":"Cuticle penetration","dir":"up","value":2},{"term":"cellular carbohydrate biosynthetic process","group":"Cuticle penetration","dir":"down","value":0.05},{"term":"cellular carbohydrate biosynthetic process","group":"Hemocoel invasion","dir":"up","value":0.7},{"term":"cellular carbohydrate biosynthetic process","group":"Hemocoel invasion","dir":"down","value":2},{"term":"cellular carbohydrate biosynthetic process","group":"Hyphal bodies formation","dir":"up","value":0.05},{"term":"cellular carbohydrate biosynthetic process","group":"Hyphal bodies formation","dir":"down","value":0.7},{"term":"cellular carbohydrate biosynthetic process","group":"Hyphal growth","dir":"up","value":0.4},{"term":"cellular carbohydrate biosynthetic process","group":"Hyphal growth","dir":"down","value":0.35},
{"term":"Ras palmitoyltransferase activity","group":"Cuticle penetration","dir":"up","value":2},{"term":"Ras palmitoyltransferase activity","group":"Cuticle penetration","dir":"down","value":0.05},{"term":"Ras palmitoyltransferase activity","group":"Hemocoel invasion","dir":"up","value":0.05},{"term":"Ras palmitoyltransferase activity","group":"Hemocoel invasion","dir":"down","value":0.35},{"term":"Ras palmitoyltransferase activity","group":"Hyphal bodies formation","dir":"up","value":1.0},{"term":"Ras palmitoyltransferase activity","group":"Hyphal bodies formation","dir":"down","value":1.0},{"term":"Ras palmitoyltransferase activity","group":"Hyphal growth","dir":"up","value":0.05},{"term":"Ras palmitoyltransferase activity","group":"Hyphal growth","dir":"down","value":1.0},
{"term":"protein catabolic process","group":"Cuticle penetration","dir":"up","value":2},{"term":"protein catabolic process","group":"Cuticle penetration","dir":"down","value":0.05},{"term":"protein catabolic process","group":"Hemocoel invasion","dir":"up","value":0.05},{"term":"protein catabolic process","group":"Hemocoel invasion","dir":"down","value":1.0},{"term":"protein catabolic process","group":"Hyphal bodies formation","dir":"up","value":1.6},{"term":"protein catabolic process","group":"Hyphal bodies formation","dir":"down","value":0.05},{"term":"protein catabolic process","group":"Hyphal growth","dir":"up","value":1.0},{"term":"protein catabolic process","group":"Hyphal growth","dir":"down","value":0.8},
{"term":"proteasome complex","group":"Cuticle penetration","dir":"up","value":2},{"term":"proteasome complex","group":"Cuticle penetration","dir":"down","value":0.7},{"term":"proteasome complex","group":"Hemocoel invasion","dir":"up","value":0.7},{"term":"proteasome complex","group":"Hemocoel invasion","dir":"down","value":1.0},{"term":"proteasome complex","group":"Hyphal bodies formation","dir":"up","value":2},{"term":"proteasome complex","group":"Hyphal bodies formation","dir":"down","value":0.35},{"term":"proteasome complex","group":"Hyphal growth","dir":"up","value":0.7},{"term":"proteasome complex","group":"Hyphal growth","dir":"down","value":1.4},
{"term":"proteasome endopeptidase activity","group":"Cuticle penetration","dir":"up","value":2},{"term":"proteasome endopeptidase activity","group":"Cuticle penetration","dir":"down","value":1.0},{"term":"proteasome endopeptidase activity","group":"Hemocoel invasion","dir":"up","value":0.4},{"term":"proteasome endopeptidase activity","group":"Hemocoel invasion","dir":"down","value":1.0},{"term":"proteasome endopeptidase activity","group":"Hyphal bodies formation","dir":"up","value":2},{"term":"proteasome endopeptidase activity","group":"Hyphal bodies formation","dir":"down","value":0.35},{"term":"proteasome endopeptidase activity","group":"Hyphal growth","dir":"up","value":0.35},{"term":"proteasome endopeptidase activity","group":"Hyphal growth","dir":"down","value":2},
{"term":"threonine-type peptidase activity","group":"Cuticle penetration","dir":"up","value":2},{"term":"threonine-type peptidase activity","group":"Cuticle penetration","dir":"down","value":1.0},{"term":"threonine-type peptidase activity","group":"Hemocoel invasion","dir":"up","value":0.4},{"term":"threonine-type peptidase activity","group":"Hemocoel invasion","dir":"down","value":1.0},{"term":"threonine-type peptidase activity","group":"Hyphal bodies formation","dir":"up","value":2},{"term":"threonine-type peptidase activity","group":"Hyphal bodies formation","dir":"down","value":0.35},{"term":"threonine-type peptidase activity","group":"Hyphal growth","dir":"up","value":0.35},{"term":"threonine-type peptidase activity","group":"Hyphal growth","dir":"down","value":2}
]},
"data": {"name": "cells"},
"facet": {"column": {"field": "group", "type": "nominal", "sort": ["Cuticle penetration", "Hemocoel invasion", "Hyphal bodies formation", "Hyphal growth"], "header": {"title": null, "labelFontSize": 7.2, "labelColor": "#000000", "labelLineHeight": 8.5, "labelPadding": 3, "labelExpr": "datum.value == 'Hyphal bodies formation' ? ['Hyphal bodies', 'formation'] : split(datum.value, ' ')"}}},
"spacing": 0,
"spec": {
  "width": 70,
  "height": 330,
  "mark": {"type": "rect"},
  "encoding": {
    "x": {"field": "dir", "type": "nominal", "sort": ["up", "down"], "axis": {"orient": "top", "title": null, "labelAngle": 0, "labelFontSize": 7, "labelColor": "#000000", "ticks": false, "tickSize": 0, "domain": true, "domainColor": "#000000", "domainWidth": 1.3, "domainDash": [57, 13], "domainDashOffset": 68, "offset": 12.5, "labelPadding": -8.5}},
    "y": {"field": "term", "type": "nominal", "sort": null, "axis": {"orient": "right", "title": null, "domain": false, "ticks": false, "labelFontSize": 5.8, "labelColor": "#000000", "labelPadding": 3.5, "labelOverlap": false, "labelLimit": 300}},
    "color": {"field": "value", "type": "quantitative", "scale": {"domain": [0, 0.4, 1, 2], "range": ["#66bb46", "#2b9a47", "#000000", "#ec1c24"]}, "legend": {"orient": "none", "legendX": 82.5, "legendY": -66.5, "direction": "horizontal", "title": "-log₁₀P", "titleFontSize": 8, "titleFontWeight": "normal", "titleColor": "#000000", "titleAnchor": "middle", "titlePadding": 2, "gradientLength": 102, "gradientThickness": 10, "values": [0, 2], "labelFontSize": 8, "labelColor": "#000000"}}
  }
}
}
